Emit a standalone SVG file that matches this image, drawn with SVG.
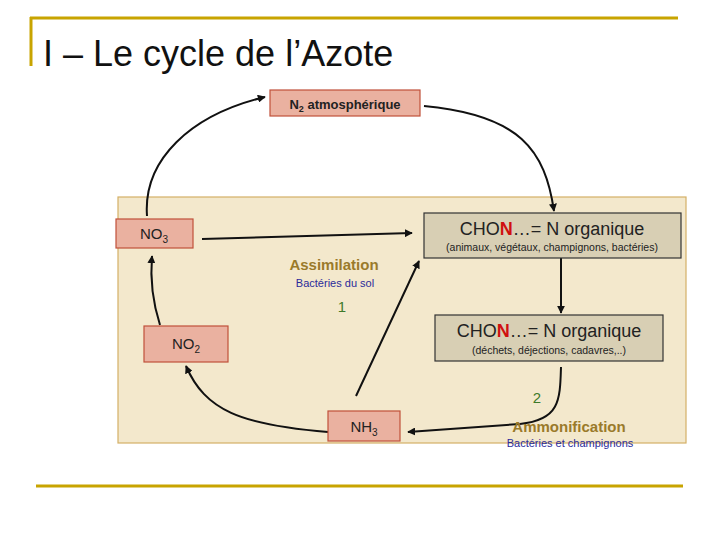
<svg xmlns="http://www.w3.org/2000/svg" width="720" height="540" viewBox="0 0 720 540">
<style>
text{font-family:"Liberation Sans",Arial,sans-serif}
.pink{fill:#eab1a0;stroke:#c0503a;stroke-width:1.2}
.org{fill:#d8cfb4;stroke:#333;stroke-width:1.2}
.c{fill:none;stroke:#111;stroke-width:2}
.gold{stroke:#c8a400;stroke-width:3}
.proc{fill:#9a7a2a;font-weight:bold;font-size:15px}
.bact{fill:#2a2a9a;font-size:11px}
.num{fill:#3e7a2a;font-size:15px}
</style>
<defs><marker id="a" viewBox="0 0 10 10" refX="9" refY="5" markerWidth="4" markerHeight="4" orient="auto"><path d="M0,0L10,5L0,10z" fill="#111"/></marker></defs>
<rect width="720" height="540" fill="#fff"/>
<line class="gold" x1="30" y1="18" x2="678" y2="18"/>
<line class="gold" x1="31" y1="17" x2="31" y2="66"/>
<line class="gold" x1="36" y1="486" x2="683" y2="486"/>
<text x="43" y="66" font-size="36" fill="#111">I – Le cycle de l’Azote</text>
<rect x="118" y="197" width="568" height="246" fill="#f3e8cc" stroke="#d4b066" stroke-width="1.2"/>
<g id="connectors">
<path class="c" d="M147,216 C143,160 190,115 265,97" marker-end="url(#a)"/>
<path class="c" d="M424,106 C520,115 545,150 554,211" marker-end="url(#a)"/>
<path class="c" d="M202,239 L412,233" stroke-width="4" marker-end="url(#a)"/>
<path class="c" d="M561,258 L561,313" stroke-width="1.2" marker-end="url(#a)"/>
<path class="c" d="M561,367 C560,400 560,420 520,424 L408,432" marker-end="url(#a)"/>
<path class="c" d="M328,432 C240,425 205,410 186,366" marker-end="url(#a)"/>
<path class="c" d="M160,325 C152,300 150,280 152,256" marker-end="url(#a)"/>
<path class="c" d="M356,396 L419,261" stroke-width="1.5" marker-end="url(#a)"/>
</g>
<g id="n2"><rect class="pink" x="270" y="90" width="150" height="26" fill="#f3c6c6"/><text x="345" y="109" text-anchor="middle" font-size="13" font-weight="bold" fill="#222">N<tspan font-size="9" dy="3">2</tspan><tspan dy="-3"> atmosphérique</tspan></text></g>
<g id="no3"><rect class="pink" x="116" y="219" width="77" height="29"/><text x="154" y="239" text-anchor="middle" font-size="15" fill="#222">NO<tspan font-size="10" dy="4">3</tspan></text></g>
<g id="chon1"><rect class="org" x="424" y="213" width="257" height="45"/><text x="552" y="235" text-anchor="middle" font-size="18" fill="#222">CHO<tspan fill="#d01010" font-weight="bold">N</tspan>…= N organique</text><text x="552" y="251" text-anchor="middle" font-size="10.5" fill="#222">(animaux, végétaux, champignons, bactéries)</text></g>
<g id="chon2"><rect class="org" x="435" y="315" width="228" height="46"/><text x="549" y="337" text-anchor="middle" font-size="18" fill="#222">CHO<tspan fill="#d01010" font-weight="bold">N</tspan>…= N organique</text><text x="549" y="354" text-anchor="middle" font-size="10.5" fill="#222">(déchets, déjections, cadavres,..)</text></g>
<g id="no2"><rect class="pink" x="144" y="326" width="84" height="36"/><text x="186" y="349" text-anchor="middle" font-size="15" fill="#222">NO<tspan font-size="10" dy="4">2</tspan></text></g>
<g id="nh3"><rect class="pink" x="328" y="411" width="72" height="30"/><text x="364" y="432" text-anchor="middle" font-size="15" fill="#222">NH<tspan font-size="10" dy="4">3</tspan></text></g>
<g id="labels">
<text class="proc" x="334" y="270" text-anchor="middle">Assimilation</text>
<text class="bact" x="335" y="287" text-anchor="middle">Bactéries du sol</text>
<text class="num" x="342" y="312" text-anchor="middle">1</text>
<text class="num" x="537" y="403" text-anchor="middle">2</text>
<text class="proc" x="569" y="432" text-anchor="middle">Ammonification</text>
<text class="bact" x="570" y="447" text-anchor="middle">Bactéries et champignons</text>
</g>
</svg>
